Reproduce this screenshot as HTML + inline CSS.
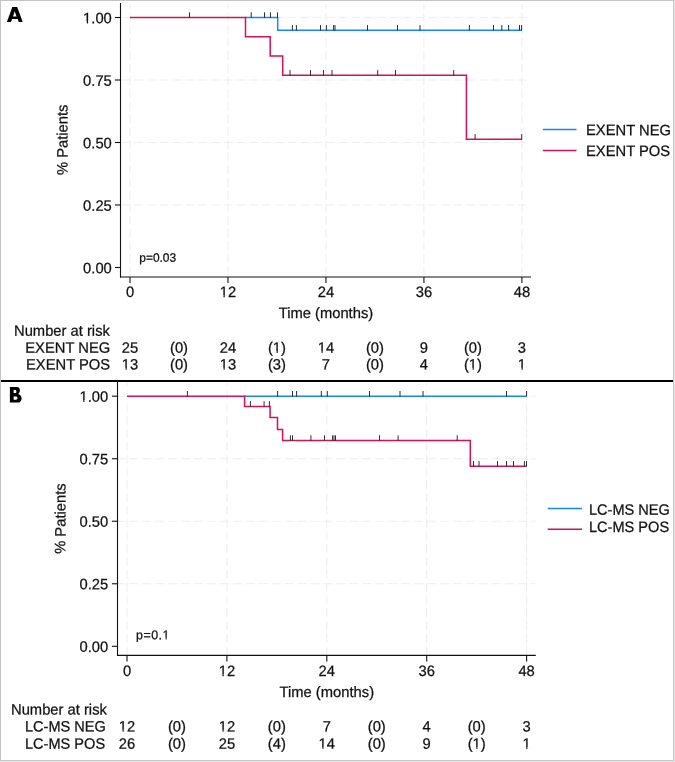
<!DOCTYPE html><html><head><meta charset="utf-8"><style>html,body{margin:0;padding:0;background:#fff;}svg{display:block;will-change:transform;text-rendering:geometricPrecision;}text{stroke:#111;stroke-width:0.25px;}</style></head><body>
<svg width="675" height="762" viewBox="0 0 675 762" font-family="'Liberation Sans', sans-serif" font-size="14.75" fill="#111">
<rect x="0" y="0" width="675" height="762" fill="#fff"/>
<line x1="121.6" y1="205" x2="531" y2="205" stroke="#eeeeee" stroke-width="1.1" stroke-dasharray="8.6 4.18" stroke-dashoffset="0"/>
<line x1="121.6" y1="142.5" x2="531" y2="142.5" stroke="#eeeeee" stroke-width="1.1" stroke-dasharray="8.6 4.18" stroke-dashoffset="0"/>
<line x1="121.6" y1="80" x2="531" y2="80" stroke="#eeeeee" stroke-width="1.1" stroke-dasharray="8.6 4.18" stroke-dashoffset="0"/>
<line x1="121.6" y1="17.5" x2="531" y2="17.5" stroke="#eeeeee" stroke-width="1.1" stroke-dasharray="8.6 4.18" stroke-dashoffset="0"/>
<line x1="130" y1="4" x2="130" y2="277" stroke="#eeeeee" stroke-width="1.1" stroke-dasharray="9.0 3.7" stroke-dashoffset="3.8"/>
<line x1="227.97" y1="4" x2="227.97" y2="277" stroke="#eeeeee" stroke-width="1.1" stroke-dasharray="9.0 3.7" stroke-dashoffset="3.8"/>
<line x1="325.95" y1="4" x2="325.95" y2="277" stroke="#eeeeee" stroke-width="1.1" stroke-dasharray="9.0 3.7" stroke-dashoffset="3.8"/>
<line x1="423.92" y1="4" x2="423.92" y2="277" stroke="#eeeeee" stroke-width="1.1" stroke-dasharray="9.0 3.7" stroke-dashoffset="3.8"/>
<line x1="521.9" y1="4" x2="521.9" y2="277" stroke="#eeeeee" stroke-width="1.1" stroke-dasharray="9.0 3.7" stroke-dashoffset="3.8"/>
<path d="M244.8 17.5 H277.7 V30.25 H522" fill="none" stroke="#1a85ff" stroke-width="1.5" stroke-linejoin="miter" stroke-linecap="butt"/>
<path d="M130 17.5 H245.5 V36.7 H270.2 V56 H282.7 V75.25 H466.4 V139.3 H522" fill="none" stroke="#d41159" stroke-width="1.5" stroke-linejoin="miter" stroke-linecap="butt"/>
<line x1="189.5" y1="12.3" x2="189.5" y2="17.8" stroke="#2e2e2e" stroke-width="1"/>
<line x1="251.2" y1="12.3" x2="251.2" y2="17.8" stroke="#2e2e2e" stroke-width="1"/>
<line x1="264.5" y1="12.3" x2="264.5" y2="17.8" stroke="#2e2e2e" stroke-width="1"/>
<line x1="270.5" y1="12.3" x2="270.5" y2="17.8" stroke="#2e2e2e" stroke-width="1"/>
<line x1="277.5" y1="12.3" x2="277.5" y2="17.8" stroke="#2e2e2e" stroke-width="1"/>
<line x1="292.4" y1="25.05" x2="292.4" y2="30.55" stroke="#2e2e2e" stroke-width="1"/>
<line x1="296.4" y1="25.05" x2="296.4" y2="30.55" stroke="#2e2e2e" stroke-width="1"/>
<line x1="320.5" y1="25.05" x2="320.5" y2="30.55" stroke="#2e2e2e" stroke-width="1"/>
<line x1="326.4" y1="25.05" x2="326.4" y2="30.55" stroke="#2e2e2e" stroke-width="1"/>
<line x1="333.6" y1="25.05" x2="333.6" y2="30.55" stroke="#2e2e2e" stroke-width="1"/>
<line x1="335" y1="25.05" x2="335" y2="30.55" stroke="#2e2e2e" stroke-width="1"/>
<line x1="367.5" y1="25.05" x2="367.5" y2="30.55" stroke="#2e2e2e" stroke-width="1"/>
<line x1="397.5" y1="25.05" x2="397.5" y2="30.55" stroke="#2e2e2e" stroke-width="1"/>
<line x1="420" y1="25.05" x2="420" y2="30.55" stroke="#2e2e2e" stroke-width="1"/>
<line x1="469.4" y1="25.05" x2="469.4" y2="30.55" stroke="#2e2e2e" stroke-width="1"/>
<line x1="493.5" y1="25.05" x2="493.5" y2="30.55" stroke="#2e2e2e" stroke-width="1"/>
<line x1="501.8" y1="25.05" x2="501.8" y2="30.55" stroke="#2e2e2e" stroke-width="1"/>
<line x1="508.6" y1="25.05" x2="508.6" y2="30.55" stroke="#2e2e2e" stroke-width="1"/>
<line x1="519.5" y1="25.05" x2="519.5" y2="30.55" stroke="#2e2e2e" stroke-width="1"/>
<line x1="521.6" y1="25.05" x2="521.6" y2="30.55" stroke="#2e2e2e" stroke-width="1"/>
<line x1="290" y1="70.05" x2="290" y2="75.55" stroke="#2e2e2e" stroke-width="1"/>
<line x1="310.5" y1="70.05" x2="310.5" y2="75.55" stroke="#2e2e2e" stroke-width="1"/>
<line x1="323.5" y1="70.05" x2="323.5" y2="75.55" stroke="#2e2e2e" stroke-width="1"/>
<line x1="332" y1="70.05" x2="332" y2="75.55" stroke="#2e2e2e" stroke-width="1"/>
<line x1="377.7" y1="70.05" x2="377.7" y2="75.55" stroke="#2e2e2e" stroke-width="1"/>
<line x1="395.5" y1="70.05" x2="395.5" y2="75.55" stroke="#2e2e2e" stroke-width="1"/>
<line x1="453.7" y1="70.05" x2="453.7" y2="75.55" stroke="#2e2e2e" stroke-width="1"/>
<line x1="475.1" y1="134.1" x2="475.1" y2="139.6" stroke="#2e2e2e" stroke-width="1"/>
<line x1="521.7" y1="134.1" x2="521.7" y2="139.6" stroke="#2e2e2e" stroke-width="1"/>
<line x1="120.5" y1="3" x2="120.5" y2="277.6" stroke="#111" stroke-width="1.1"/>
<line x1="120" y1="277" x2="531" y2="277" stroke="#111" stroke-width="1.2"/>
<line x1="114.9" y1="267.5" x2="120.5" y2="267.5" stroke="#111" stroke-width="1.1"/>
<text transform="translate(111.8,273.2) rotate(0.05) scale(1,1.02)" text-anchor="end">0.00</text>
<line x1="114.9" y1="205" x2="120.5" y2="205" stroke="#111" stroke-width="1.1"/>
<text transform="translate(111.8,210.7) rotate(0.05) scale(1,1.02)" text-anchor="end">0.25</text>
<line x1="114.9" y1="142.5" x2="120.5" y2="142.5" stroke="#111" stroke-width="1.1"/>
<text transform="translate(111.8,148.2) rotate(0.05) scale(1,1.02)" text-anchor="end">0.50</text>
<line x1="114.9" y1="80" x2="120.5" y2="80" stroke="#111" stroke-width="1.1"/>
<text transform="translate(111.8,85.7) rotate(0.05) scale(1,1.02)" text-anchor="end">0.75</text>
<line x1="114.9" y1="17.5" x2="120.5" y2="17.5" stroke="#111" stroke-width="1.1"/>
<text transform="translate(111.8,23.2) rotate(0.05) scale(1,1.02)" text-anchor="end">1.00</text>
<line x1="130" y1="277" x2="130" y2="283" stroke="#111" stroke-width="1.1"/>
<text transform="translate(130,296.9) rotate(0.05) scale(1,1.02)" text-anchor="middle">0</text>
<line x1="227.97" y1="277" x2="227.97" y2="283" stroke="#111" stroke-width="1.1"/>
<text transform="translate(227.97,296.9) rotate(0.05) scale(1,1.02)" text-anchor="middle">12</text>
<line x1="325.95" y1="277" x2="325.95" y2="283" stroke="#111" stroke-width="1.1"/>
<text transform="translate(325.95,296.9) rotate(0.05) scale(1,1.02)" text-anchor="middle">24</text>
<line x1="423.92" y1="277" x2="423.92" y2="283" stroke="#111" stroke-width="1.1"/>
<text transform="translate(423.92,296.9) rotate(0.05) scale(1,1.02)" text-anchor="middle">36</text>
<line x1="521.9" y1="277" x2="521.9" y2="283" stroke="#111" stroke-width="1.1"/>
<text transform="translate(521.9,296.9) rotate(0.05) scale(1,1.02)" text-anchor="middle">48</text>
<text transform="translate(325.95,318) rotate(0.05) scale(1,1.02)" text-anchor="middle">Time (months)</text>
<text transform="translate(67.5,139.8) rotate(-90) rotate(0.05) scale(1,1.02)" text-anchor="middle">% Patients</text>
<text transform="translate(139.3,261.8) rotate(0.05) scale(1,1.02)" font-size="11.95">p=0.03</text>
<line x1="542.8" y1="129.5" x2="576.5" y2="129.5" stroke="#1a85ff" stroke-width="1.6"/>
<text transform="translate(586,135.1) rotate(0.05) scale(1,1.02)">EXENT NEG</text>
<line x1="542.8" y1="150.5" x2="576.5" y2="150.5" stroke="#d41159" stroke-width="1.6"/>
<text transform="translate(586,155.9) rotate(0.05) scale(1,1.02)">EXENT POS</text>
<text transform="translate(14,335.7) rotate(0.05) scale(1,1.02)">Number at risk</text>
<text transform="translate(110.2,352.8) rotate(0.05) scale(1,1.02)" text-anchor="end">EXENT NEG</text>
<text transform="translate(130,352.8) rotate(0.05) scale(1,1.02)" text-anchor="middle">25</text>
<text transform="translate(178.99,352.8) rotate(0.05) scale(1,1.02)" text-anchor="middle">(0)</text>
<text transform="translate(227.97,352.8) rotate(0.05) scale(1,1.02)" text-anchor="middle">24</text>
<text transform="translate(276.96,352.8) rotate(0.05) scale(1,1.02)" text-anchor="middle">(1)</text>
<text transform="translate(325.95,352.8) rotate(0.05) scale(1,1.02)" text-anchor="middle">14</text>
<text transform="translate(374.94,352.8) rotate(0.05) scale(1,1.02)" text-anchor="middle">(0)</text>
<text transform="translate(423.92,352.8) rotate(0.05) scale(1,1.02)" text-anchor="middle">9</text>
<text transform="translate(472.91,352.8) rotate(0.05) scale(1,1.02)" text-anchor="middle">(0)</text>
<text transform="translate(521.9,352.8) rotate(0.05) scale(1,1.02)" text-anchor="middle">3</text>
<text transform="translate(110.2,369.6) rotate(0.05) scale(1,1.02)" text-anchor="end">EXENT POS</text>
<text transform="translate(130,369.6) rotate(0.05) scale(1,1.02)" text-anchor="middle">13</text>
<text transform="translate(178.99,369.6) rotate(0.05) scale(1,1.02)" text-anchor="middle">(0)</text>
<text transform="translate(227.97,369.6) rotate(0.05) scale(1,1.02)" text-anchor="middle">13</text>
<text transform="translate(276.96,369.6) rotate(0.05) scale(1,1.02)" text-anchor="middle">(3)</text>
<text transform="translate(325.95,369.6) rotate(0.05) scale(1,1.02)" text-anchor="middle">7</text>
<text transform="translate(374.94,369.6) rotate(0.05) scale(1,1.02)" text-anchor="middle">(0)</text>
<text transform="translate(423.92,369.6) rotate(0.05) scale(1,1.02)" text-anchor="middle">4</text>
<text transform="translate(472.91,369.6) rotate(0.05) scale(1,1.02)" text-anchor="middle">(1)</text>
<text transform="translate(521.9,369.6) rotate(0.05) scale(1,1.02)" text-anchor="middle">1</text>
<line x1="118.1" y1="583.77" x2="535.8" y2="583.77" stroke="#eeeeee" stroke-width="1.1" stroke-dasharray="8.8 4.15" stroke-dashoffset="1.7"/>
<line x1="118.1" y1="521.25" x2="535.8" y2="521.25" stroke="#eeeeee" stroke-width="1.1" stroke-dasharray="8.8 4.15" stroke-dashoffset="1.7"/>
<line x1="118.1" y1="458.72" x2="535.8" y2="458.72" stroke="#eeeeee" stroke-width="1.1" stroke-dasharray="8.8 4.15" stroke-dashoffset="1.7"/>
<line x1="118.1" y1="396.2" x2="535.8" y2="396.2" stroke="#eeeeee" stroke-width="1.1" stroke-dasharray="8.8 4.15" stroke-dashoffset="1.7"/>
<line x1="127" y1="382.5" x2="127" y2="655.4" stroke="#eeeeee" stroke-width="1.1" stroke-dasharray="9.2 3.6" stroke-dashoffset="4.8"/>
<line x1="226.9" y1="382.5" x2="226.9" y2="655.4" stroke="#eeeeee" stroke-width="1.1" stroke-dasharray="9.2 3.6" stroke-dashoffset="4.8"/>
<line x1="326.8" y1="382.5" x2="326.8" y2="655.4" stroke="#eeeeee" stroke-width="1.1" stroke-dasharray="9.2 3.6" stroke-dashoffset="4.8"/>
<line x1="426.7" y1="382.5" x2="426.7" y2="655.4" stroke="#eeeeee" stroke-width="1.1" stroke-dasharray="9.2 3.6" stroke-dashoffset="4.8"/>
<line x1="526.6" y1="382.5" x2="526.6" y2="655.4" stroke="#eeeeee" stroke-width="1.1" stroke-dasharray="9.2 3.6" stroke-dashoffset="4.8"/>
<path d="M243.9 396.2 H526.6" fill="none" stroke="#1a85ff" stroke-width="1.5" stroke-linejoin="miter" stroke-linecap="butt"/>
<path d="M127 396.2 H244.6 V406.4 H270.1 V417.6 H277.5 V429.4 H282.6 V440.5 H470.3 V466.3 H526.6" fill="none" stroke="#d41159" stroke-width="1.5" stroke-linejoin="miter" stroke-linecap="butt"/>
<line x1="187.4" y1="391" x2="187.4" y2="396.5" stroke="#2e2e2e" stroke-width="1"/>
<line x1="277.6" y1="391" x2="277.6" y2="396.5" stroke="#2e2e2e" stroke-width="1"/>
<line x1="292.5" y1="391" x2="292.5" y2="396.5" stroke="#2e2e2e" stroke-width="1"/>
<line x1="296.6" y1="391" x2="296.6" y2="396.5" stroke="#2e2e2e" stroke-width="1"/>
<line x1="321.3" y1="391" x2="321.3" y2="396.5" stroke="#2e2e2e" stroke-width="1"/>
<line x1="327.3" y1="391" x2="327.3" y2="396.5" stroke="#2e2e2e" stroke-width="1"/>
<line x1="369.5" y1="391" x2="369.5" y2="396.5" stroke="#2e2e2e" stroke-width="1"/>
<line x1="400" y1="391" x2="400" y2="396.5" stroke="#2e2e2e" stroke-width="1"/>
<line x1="423" y1="391" x2="423" y2="396.5" stroke="#2e2e2e" stroke-width="1"/>
<line x1="506.5" y1="391" x2="506.5" y2="396.5" stroke="#2e2e2e" stroke-width="1"/>
<line x1="526.6" y1="391" x2="526.6" y2="396.5" stroke="#2e2e2e" stroke-width="1"/>
<line x1="250.4" y1="401.2" x2="250.4" y2="406.7" stroke="#2e2e2e" stroke-width="1"/>
<line x1="264.1" y1="401.2" x2="264.1" y2="406.7" stroke="#2e2e2e" stroke-width="1"/>
<line x1="269.4" y1="401.2" x2="269.4" y2="406.7" stroke="#2e2e2e" stroke-width="1"/>
<line x1="290.4" y1="435.3" x2="290.4" y2="440.8" stroke="#2e2e2e" stroke-width="1"/>
<line x1="292.5" y1="435.3" x2="292.5" y2="440.8" stroke="#2e2e2e" stroke-width="1"/>
<line x1="310.9" y1="435.3" x2="310.9" y2="440.8" stroke="#2e2e2e" stroke-width="1"/>
<line x1="324.5" y1="435.3" x2="324.5" y2="440.8" stroke="#2e2e2e" stroke-width="1"/>
<line x1="332.6" y1="435.3" x2="332.6" y2="440.8" stroke="#2e2e2e" stroke-width="1"/>
<line x1="334" y1="435.3" x2="334" y2="440.8" stroke="#2e2e2e" stroke-width="1"/>
<line x1="335.5" y1="435.3" x2="335.5" y2="440.8" stroke="#2e2e2e" stroke-width="1"/>
<line x1="379.5" y1="435.3" x2="379.5" y2="440.8" stroke="#2e2e2e" stroke-width="1"/>
<line x1="398.1" y1="435.3" x2="398.1" y2="440.8" stroke="#2e2e2e" stroke-width="1"/>
<line x1="457.2" y1="435.3" x2="457.2" y2="440.8" stroke="#2e2e2e" stroke-width="1"/>
<line x1="473.5" y1="461.1" x2="473.5" y2="466.6" stroke="#2e2e2e" stroke-width="1"/>
<line x1="479" y1="461.1" x2="479" y2="466.6" stroke="#2e2e2e" stroke-width="1"/>
<line x1="497.5" y1="461.1" x2="497.5" y2="466.6" stroke="#2e2e2e" stroke-width="1"/>
<line x1="506.5" y1="461.1" x2="506.5" y2="466.6" stroke="#2e2e2e" stroke-width="1"/>
<line x1="513.5" y1="461.1" x2="513.5" y2="466.6" stroke="#2e2e2e" stroke-width="1"/>
<line x1="524.4" y1="461.1" x2="524.4" y2="466.6" stroke="#2e2e2e" stroke-width="1"/>
<line x1="526.5" y1="461.1" x2="526.5" y2="466.6" stroke="#2e2e2e" stroke-width="1"/>
<line x1="117.5" y1="381.5" x2="117.5" y2="656" stroke="#111" stroke-width="1.1"/>
<line x1="117" y1="655.4" x2="535.8" y2="655.4" stroke="#111" stroke-width="1.2"/>
<line x1="111.9" y1="646.3" x2="117.5" y2="646.3" stroke="#111" stroke-width="1.1"/>
<text transform="translate(108.2,651.9) rotate(0.05) scale(1,1.02)" text-anchor="end">0.00</text>
<line x1="111.9" y1="583.77" x2="117.5" y2="583.77" stroke="#111" stroke-width="1.1"/>
<text transform="translate(108.2,589.38) rotate(0.05) scale(1,1.02)" text-anchor="end">0.25</text>
<line x1="111.9" y1="521.25" x2="117.5" y2="521.25" stroke="#111" stroke-width="1.1"/>
<text transform="translate(108.2,526.85) rotate(0.05) scale(1,1.02)" text-anchor="end">0.50</text>
<line x1="111.9" y1="458.72" x2="117.5" y2="458.72" stroke="#111" stroke-width="1.1"/>
<text transform="translate(108.2,464.32) rotate(0.05) scale(1,1.02)" text-anchor="end">0.75</text>
<line x1="111.9" y1="396.2" x2="117.5" y2="396.2" stroke="#111" stroke-width="1.1"/>
<text transform="translate(108.2,401.8) rotate(0.05) scale(1,1.02)" text-anchor="end">1.00</text>
<line x1="127" y1="655.4" x2="127" y2="661.4" stroke="#111" stroke-width="1.1"/>
<text transform="translate(127,676) rotate(0.05) scale(1,1.02)" text-anchor="middle">0</text>
<line x1="226.9" y1="655.4" x2="226.9" y2="661.4" stroke="#111" stroke-width="1.1"/>
<text transform="translate(226.9,676) rotate(0.05) scale(1,1.02)" text-anchor="middle">12</text>
<line x1="326.8" y1="655.4" x2="326.8" y2="661.4" stroke="#111" stroke-width="1.1"/>
<text transform="translate(326.8,676) rotate(0.05) scale(1,1.02)" text-anchor="middle">24</text>
<line x1="426.7" y1="655.4" x2="426.7" y2="661.4" stroke="#111" stroke-width="1.1"/>
<text transform="translate(426.7,676) rotate(0.05) scale(1,1.02)" text-anchor="middle">36</text>
<line x1="526.6" y1="655.4" x2="526.6" y2="661.4" stroke="#111" stroke-width="1.1"/>
<text transform="translate(526.6,676) rotate(0.05) scale(1,1.02)" text-anchor="middle">48</text>
<text transform="translate(326.8,697) rotate(0.05) scale(1,1.02)" text-anchor="middle">Time (months)</text>
<text transform="translate(65.4,518.6) rotate(-90) rotate(0.05) scale(1,1.02)" text-anchor="middle">% Patients</text>
<text transform="translate(136,639.2) rotate(0.05) scale(1,1.02)" font-size="12.4" textLength="33.38" lengthAdjust="spacing">p=0.1</text>
<line x1="547.7" y1="508.45" x2="582" y2="508.45" stroke="#1a85ff" stroke-width="1.6"/>
<text transform="translate(589,514.8) rotate(0.05) scale(1,1.02)" textLength="80.85" lengthAdjust="spacingAndGlyphs">LC-MS NEG</text>
<line x1="547.7" y1="529.2" x2="582" y2="529.2" stroke="#d41159" stroke-width="1.6"/>
<text transform="translate(589,532) rotate(0.05) scale(1,1.02)" textLength="80.09" lengthAdjust="spacingAndGlyphs">LC-MS POS</text>
<text transform="translate(11,714.4) rotate(0.05) scale(1,1.02)">Number at risk</text>
<text transform="translate(25,731.4) rotate(0.05) scale(1,1.02)" textLength="80.85" lengthAdjust="spacingAndGlyphs">LC-MS NEG</text>
<text transform="translate(127,731.4) rotate(0.05) scale(1,1.02)" text-anchor="middle">12</text>
<text transform="translate(176.95,731.4) rotate(0.05) scale(1,1.02)" text-anchor="middle">(0)</text>
<text transform="translate(226.9,731.4) rotate(0.05) scale(1,1.02)" text-anchor="middle">12</text>
<text transform="translate(276.85,731.4) rotate(0.05) scale(1,1.02)" text-anchor="middle">(0)</text>
<text transform="translate(326.8,731.4) rotate(0.05) scale(1,1.02)" text-anchor="middle">7</text>
<text transform="translate(376.75,731.4) rotate(0.05) scale(1,1.02)" text-anchor="middle">(0)</text>
<text transform="translate(426.7,731.4) rotate(0.05) scale(1,1.02)" text-anchor="middle">4</text>
<text transform="translate(476.65,731.4) rotate(0.05) scale(1,1.02)" text-anchor="middle">(0)</text>
<text transform="translate(526.6,731.4) rotate(0.05) scale(1,1.02)" text-anchor="middle">3</text>
<text transform="translate(25,748.8) rotate(0.05) scale(1,1.02)" textLength="80.09" lengthAdjust="spacingAndGlyphs">LC-MS POS</text>
<text transform="translate(127,748.8) rotate(0.05) scale(1,1.02)" text-anchor="middle">26</text>
<text transform="translate(176.95,748.8) rotate(0.05) scale(1,1.02)" text-anchor="middle">(0)</text>
<text transform="translate(226.9,748.8) rotate(0.05) scale(1,1.02)" text-anchor="middle">25</text>
<text transform="translate(276.85,748.8) rotate(0.05) scale(1,1.02)" text-anchor="middle">(4)</text>
<text transform="translate(326.8,748.8) rotate(0.05) scale(1,1.02)" text-anchor="middle">14</text>
<text transform="translate(376.75,748.8) rotate(0.05) scale(1,1.02)" text-anchor="middle">(0)</text>
<text transform="translate(426.7,748.8) rotate(0.05) scale(1,1.02)" text-anchor="middle">9</text>
<text transform="translate(476.65,748.8) rotate(0.05) scale(1,1.02)" text-anchor="middle">(1)</text>
<text transform="translate(526.6,748.8) rotate(0.05) scale(1,1.02)" text-anchor="middle">1</text>
<g fill="#fff"><rect x="83.16" y="21.48" width="3.64" height="3.02"/><rect x="88.1" y="21.48" width="3.13" height="3.02"/><rect x="219.84" y="295.18" width="3.64" height="3.02"/><rect x="224.78" y="295.18" width="3.13" height="3.02"/><rect x="272.93" y="351.08" width="3.64" height="3.02"/><rect x="277.87" y="351.08" width="3.13" height="3.02"/><rect x="317.82" y="351.08" width="3.64" height="3.02"/><rect x="322.76" y="351.08" width="3.13" height="3.02"/><rect x="121.87" y="367.88" width="3.64" height="3.02"/><rect x="126.81" y="367.88" width="3.13" height="3.02"/><rect x="219.84" y="367.88" width="3.64" height="3.02"/><rect x="224.78" y="367.88" width="3.13" height="3.02"/><rect x="468.88" y="367.88" width="3.64" height="3.02"/><rect x="473.82" y="367.88" width="3.13" height="3.02"/><rect x="517.87" y="367.88" width="3.64" height="3.02"/><rect x="522.81" y="367.88" width="3.13" height="3.02"/><rect x="79.56" y="400.08" width="3.64" height="3.02"/><rect x="84.5" y="400.08" width="3.13" height="3.02"/><rect x="218.77" y="674.28" width="3.64" height="3.02"/><rect x="223.71" y="674.28" width="3.13" height="3.02"/><rect x="162.54" y="637.66" width="3.06" height="2.84"/><rect x="166.69" y="637.66" width="2.63" height="2.84"/><rect x="118.87" y="729.68" width="3.64" height="3.02"/><rect x="123.81" y="729.68" width="3.13" height="3.02"/><rect x="218.77" y="729.68" width="3.64" height="3.02"/><rect x="223.71" y="729.68" width="3.13" height="3.02"/><rect x="318.67" y="747.08" width="3.64" height="3.02"/><rect x="323.61" y="747.08" width="3.13" height="3.02"/><rect x="472.62" y="747.08" width="3.64" height="3.02"/><rect x="477.56" y="747.08" width="3.13" height="3.02"/><rect x="522.57" y="747.08" width="3.64" height="3.02"/><rect x="527.51" y="747.08" width="3.13" height="3.02"/></g>
<rect x="1" y="380" width="673" height="2" fill="#000"/>
<path d="M6.9 22.1 L12.3 6.9 L17.2 6.9 L22.7 22.1 L18.7 22.1 L17.7 19.0 L12.0 19.0 L11.0 22.1 Z M13.0 16.5 L16.5 16.5 L14.7 11.3 Z" fill="#000" fill-rule="evenodd"/>
<path d="M9.9 387.1 H16.9 C19.0 387.1 19.9 388.5 19.9 390.3 C19.9 392.0 19.1 393.3 18.2 394.1 C20.4 394.8 21.6 396.4 21.6 398.4 C21.6 400.9 20.0 402.6 17.4 402.6 H9.9 Z M13.6 390.0 H15.4 C16.0 390.0 16.4 390.7 16.4 391.5 C16.4 392.4 16.0 393.1 15.4 393.1 H13.6 Z M13.6 396.5 H16.0 C16.9 396.5 17.5 397.2 17.5 398.1 C17.5 399.0 16.9 399.8 16.0 399.8 H13.6 Z" fill="#000" fill-rule="evenodd"/>
<rect x="0" y="0" width="675" height="1" fill="#c4c4c4"/>
<rect x="0" y="0" width="1" height="762" fill="#c4c4c4"/>
<rect x="673" y="0" width="1" height="761" fill="#c8c8c8"/>
<rect x="674" y="0" width="1" height="762" fill="#e6e6e6"/>
<rect x="0" y="760" width="674" height="1" fill="#c8c8c8"/>
<rect x="0" y="761" width="675" height="1" fill="#e6e6e6"/>
</svg></body></html>
